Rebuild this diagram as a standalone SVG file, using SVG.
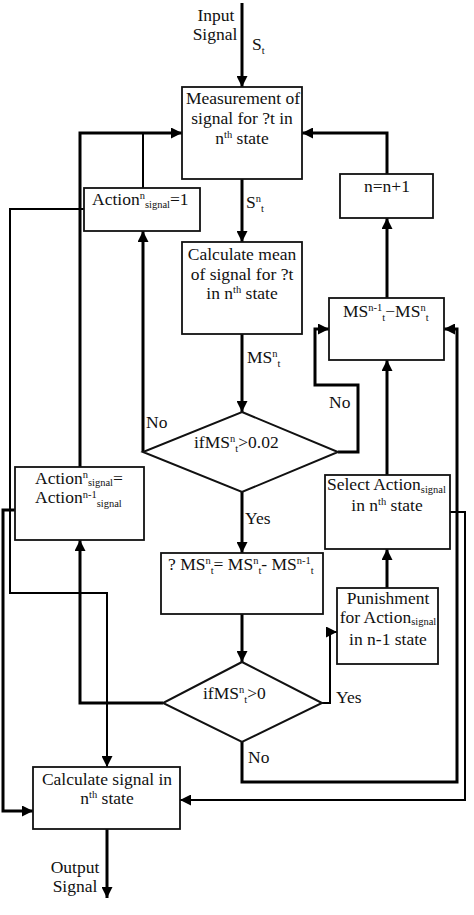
<svg xmlns="http://www.w3.org/2000/svg" width="474" height="915" viewBox="0 0 474 915">
<defs>
<marker id="ah" viewBox="0 0 10 10" refX="10" refY="5" markerWidth="11" markerHeight="11" markerUnits="userSpaceOnUse" orient="auto">
<path d="M0,0 L10,5 L0,10 z" fill="#000"/>
</marker>
</defs>
<style>
.box{fill:#fff;stroke:#111;stroke-width:1.8}
.dia{fill:#fff;stroke:#111;stroke-width:2}
.t{font-family:"Liberation Serif","Times New Roman",serif;font-size:17.5px;fill:#111}
.s{font-size:10.5px}
.thick{fill:none;stroke:#000;stroke-width:3}
.thin{fill:none;stroke:#000;stroke-width:2}
.arr{marker-end:url(#ah)}
</style>
<rect width="474" height="915" fill="#fff"/>

<g id="connectors">
<path class="thick arr" d="M242,3 V87"/>
<path class="thick arr" d="M242,179 V242"/>
<path class="thick arr" d="M242,334 V412"/>
<path class="thick arr" d="M242,492 V553"/>
<path class="thick arr" d="M242,614 V662"/>
<path class="thick arr" d="M143,452 V231"/>
<path class="thin" d="M143,188 V133"/>
<path class="thick arr" d="M80,467 V133 H182"/>
<path class="thin arr" d="M84,209 H10 V593 H107 V767"/>
<path class="thick arr" d="M15,510 H3 V811 H33"/>
<path class="thick arr" d="M163,703 H80 V540"/>
<path class="thick arr" d="M338,452 H358 V385 H315 V329 H329"/>
<path class="thick arr" d="M387,298 V218"/>
<path class="thick arr" d="M387,174 V133 H302"/>
<path class="thick arr" d="M387,475 V360"/>
<path class="thick arr" d="M387,588 V549"/>
<path class="thin arr" d="M322,703 H330 V632 H337"/>
<path class="thick arr" d="M242,742 V782 H457 V329 H444"/>
<path class="thin arr" d="M450,512 H465 V800 H180"/>
<path class="thick arr" d="M107,829 V898"/>
</g>

<g id="labels">
<text class="t" x="216" y="21" text-anchor="middle">Input</text>
<text class="t" x="215" y="40" text-anchor="middle">Signal</text>
<text class="t" x="252" y="50">S<tspan class="s" dy="4">t</tspan></text>
<text class="t" x="246" y="208">S<tspan class="s" dy="-6">n</tspan><tspan class="s" dy="10">t</tspan></text>
<text class="t" x="247" y="363">MS<tspan class="s" dy="-6">n</tspan><tspan class="s" dy="10">t</tspan></text>
<text class="t" x="146" y="428">No</text>
<text class="t" x="329" y="408">No</text>
<text class="t" x="245" y="524">Yes</text>
<text class="t" x="336" y="703">Yes</text>
<text class="t" x="248" y="763">No</text>
<text class="t" x="75" y="873" text-anchor="middle">Output</text>
<text class="t" x="75" y="892" text-anchor="middle">Signal</text>
</g>

<g id="measurement">
<rect class="box" x="182" y="87" width="120" height="92"/>
<text class="t" x="243" y="104" text-anchor="middle">Measurement of</text>
<text class="t" x="242" y="124" text-anchor="middle">signal for ?t in</text>
<text class="t" x="242" y="144" text-anchor="middle">n<tspan class="s" dy="-6">th</tspan><tspan dy="6"> state</tspan></text>
</g>

<g id="action1">
<rect class="box" x="84" y="188" width="116" height="43"/>
<text class="t" x="92" y="205">Action<tspan class="s" dy="-6">n</tspan><tspan class="s" dy="9">signal</tspan><tspan dy="-3">=1</tspan></text>
</g>

<g id="increment">
<rect class="box" x="340" y="174" width="93" height="44"/>
<text class="t" x="387" y="192" text-anchor="middle">n=n+1</text>
</g>

<g id="calcmean">
<rect class="box" x="182" y="242" width="120" height="92"/>
<text class="t" x="242" y="260" text-anchor="middle">Calculate mean</text>
<text class="t" x="242" y="280" text-anchor="middle">of signal for ?t</text>
<text class="t" x="242" y="299" text-anchor="middle">in n<tspan class="s" dy="-6">th</tspan><tspan dy="6"> state</tspan></text>
</g>

<g id="msdiff">
<rect class="box" x="329" y="298" width="115" height="62"/>
<text class="t" x="343" y="317">MS<tspan class="s" dy="-6">n-1</tspan><tspan class="s" dy="10">t</tspan><tspan dy="-4">−MS</tspan><tspan class="s" dy="-6">n</tspan><tspan class="s" dy="10">t</tspan></text>
</g>

<g id="decision1">
<polygon class="dia" points="242,412 338,452 242,492 143,452"/>
<text class="t" x="194" y="448">ifMS<tspan class="s" dy="-6">n</tspan><tspan class="s" dy="10">t</tspan><tspan dy="-4">&gt;0.02</tspan></text>
</g>

<g id="action2">
<rect class="box" x="15" y="467" width="129" height="73"/>
<text class="t" x="35" y="484">Action<tspan class="s" dy="-6">n</tspan><tspan class="s" dy="8">signal</tspan><tspan dy="-2">=</tspan></text>
<text class="t" x="35" y="503">Action<tspan class="s" dy="-5">n-1</tspan><tspan class="s" dy="9">signal</tspan></text>
</g>

<g id="select">
<rect class="box" x="325" y="475" width="125" height="74"/>
<text class="t" x="327" y="490">Select Action<tspan class="s" dy="3">signal</tspan></text>
<text class="t" x="387" y="511" text-anchor="middle">in n<tspan class="s" dy="-6">th</tspan><tspan dy="6"> state</tspan></text>
</g>

<g id="deltams">
<rect class="box" x="161" y="553" width="162" height="61"/>
<text class="t" x="168" y="570">? MS<tspan class="s" dy="-6">n</tspan><tspan class="s" dy="10">t</tspan><tspan dy="-4">= MS</tspan><tspan class="s" dy="-6">n</tspan><tspan class="s" dy="10">t</tspan><tspan dy="-4">- MS</tspan><tspan class="s" dy="-6">n-1</tspan><tspan class="s" dy="10">t</tspan></text>
</g>

<g id="punishment">
<rect class="box" x="337" y="588" width="101" height="76"/>
<text class="t" x="388" y="604" text-anchor="middle">Punishment</text>
<text class="t" x="388" y="623" text-anchor="middle">for Action<tspan class="s" dy="2">signal</tspan></text>
<text class="t" x="388" y="645" text-anchor="middle">in n-1 state</text>
</g>

<g id="decision2">
<polygon class="dia" points="242,662 322,703 242,742 163,703"/>
<text class="t" x="203" y="699">ifMS<tspan class="s" dy="-6">n</tspan><tspan class="s" dy="10">t</tspan><tspan dy="-4">&gt;0</tspan></text>
</g>

<g id="calcsignal">
<rect class="box" x="33" y="767" width="147" height="62"/>
<text class="t" x="107" y="785" text-anchor="middle">Calculate signal in</text>
<text class="t" x="107" y="804" text-anchor="middle">n<tspan class="s" dy="-6">th</tspan><tspan dy="6"> state</tspan></text>
</g>
</svg>
